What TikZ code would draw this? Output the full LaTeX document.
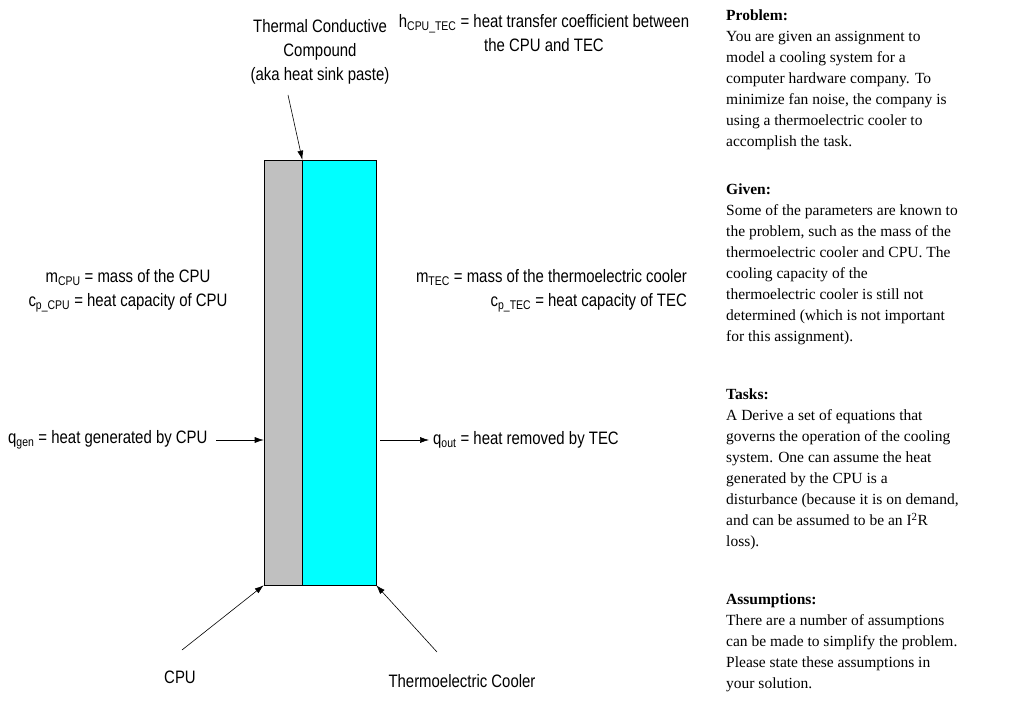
\documentclass[tikz,border=0pt]{standalone}
\usepackage{fontspec}
\usetikzlibrary{arrows.meta}
\setmainfont{Liberation Serif}
\newfontfamily\lab{Liberation Sans}
\definecolor{tec}{HTML}{00FFFF}
\definecolor{cpu}{HTML}{C0C0C0}
\begin{document}
\begin{tikzpicture}[x=1pt,y=1pt,
  lbl/.style={font=\lab\fontsize{18}{24}\selectfont, xscale=0.83, inner sep=0},
  txt/.style={font=\fontsize{15.5}{21}\selectfont, align=left, anchor=north west, inner sep=0},
  arr/.style={-{Latex[length=9pt,width=6pt]}, line width=0.6pt}]
\useasboundingbox (0,0) rectangle (1024,705);
\fill[white] (0,0) rectangle (1024,705);
\node[draw=black, fill=cpu, minimum width=38, minimum height=425, inner sep=0, line width=0.6pt] (cpu) at (283,332.5) {};
\node[draw=black, fill=tec, minimum width=74, minimum height=425, inner sep=0, line width=0.6pt] (tec) at (339,332.5) {};
\node[lbl, align=center] (tcc) at (320,653) {Thermal Conductive\\Compound\\(aka heat sink paste)};
\coordinate (tccs) at (288,610);
\draw[arr] (tccs) -- (cpu.north east);
\node[lbl, align=center, anchor=north] (h) at (544,691) {h\textsubscript{CPU\_TEC} = heat transfer coefficient between\\the CPU and TEC};
\node[lbl, align=center] (mc) at (128,414) {m\textsubscript{CPU} = mass of the CPU\\c\textsubscript{p\_CPU} = heat capacity of CPU};
\node[lbl, align=right, anchor=east] (mt) at (687,414) {m\textsubscript{TEC} = mass of the thermoelectric cooler\\c\textsubscript{p\_TEC} = heat capacity of TEC};
\node[lbl, anchor=west] (qg) at (8,265) {q\textsubscript{gen} = heat generated by CPU};
\draw[arr] (216,265) -- (cpu.west |- 0,265);
\node[lbl, anchor=west] (qo) at (433,265) {q\textsubscript{out} = heat removed by TEC};
\draw[arr] (tec.east |- 0,265) ++(4,0) -- ([xshift=-4pt]qo.west);
\node[lbl] (cl) at (180,28) {CPU};
\draw[arr] (182,55) -- (cpu.south west);
\node[lbl] (tl) at (462,24) {Thermoelectric Cooler};
\draw[arr] (437,53) -- (tec.south east);
\node[txt] (p) at (726,695) {\textbf{Problem:}\\You are given an assignment to\\model a cooling system for a\\computer hardware company. To\\minimize fan noise, the company is\\using a thermoelectric cooler to\\accomplish the task.};
\node[txt] (g) at (726,521) {\textbf{Given:}\\Some of the parameters are known to\\the problem, such as the mass of the\\thermoelectric cooler and CPU. The\\cooling capacity of the\\thermoelectric cooler is still not\\determined (which is not important\\for this assignment).};
\node[txt] (t) at (726,316) {\textbf{Tasks:}\\A Derive a set of equations that\\governs the operation of the cooling\\system. One can assume the heat\\generated by the CPU is a\\disturbance (because it is on demand,\\and can be assumed to be an I\textsuperscript{2}R\\loss).};
\node[txt] (a) at (726,111) {\textbf{Assumptions:}\\There are a number of assumptions\\can be made to simplify the problem.\\Please state these assumptions in\\your solution.};
\end{tikzpicture}
\end{document}
